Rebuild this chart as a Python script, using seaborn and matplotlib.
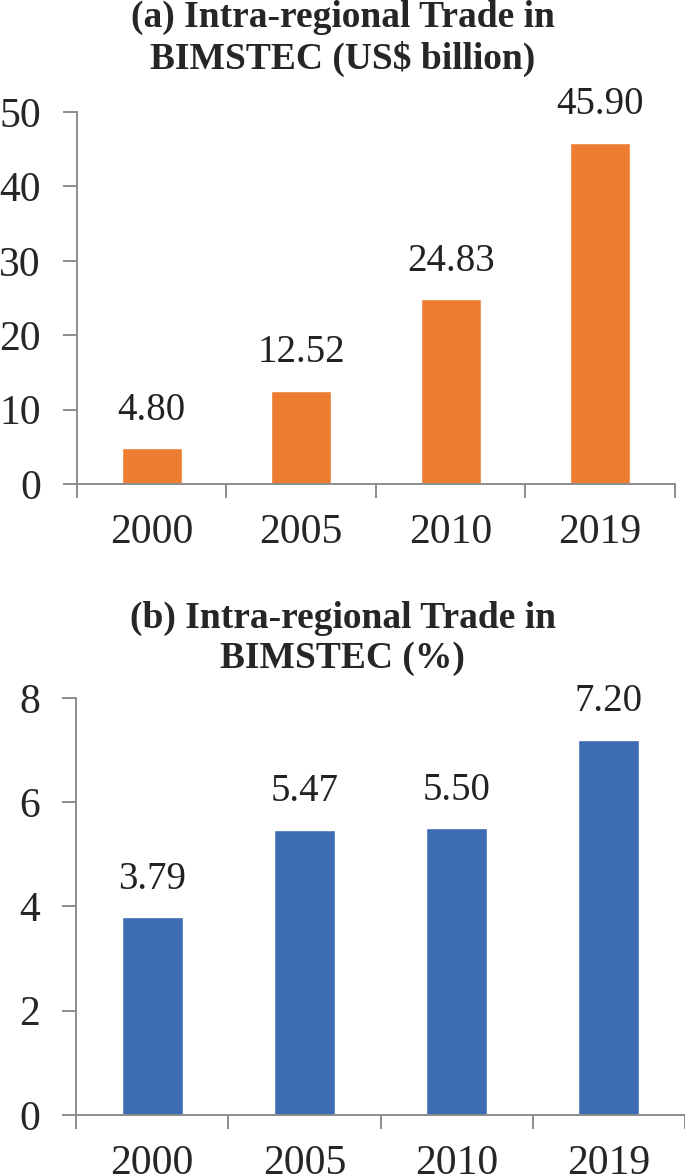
import pandas as pd
import seaborn as sns
import matplotlib.pyplot as plt

years = ["2000", "2005", "2010", "2019"]
trade_bn = [4.80, 12.52, 24.83, 45.90]
trade_pct = [3.79, 5.47, 5.50, 7.20]

sns.set_style("white")
plt.rcParams["font.family"] = ["Liberation Serif", "DejaVu Serif"]

df_a = pd.DataFrame({"year": years, "value": trade_bn})
df_b = pd.DataFrame({"year": years, "value": trade_pct})

fig = plt.figure(figsize=(6.85, 11.74), dpi=100)
ax1 = fig.add_axes([0.1124, 0.5877, 0.873, 0.3169])
ax2 = fig.add_axes([0.111, 0.0503, 0.889, 0.3552])

panels = [
    (ax1, df_a, "#ED7D31", "(a) Intra-regional Trade in\nBIMSTEC (US$ billion)", 50, 10, 0.967),
    (ax2, df_b, "#3D6CB3", "(b) Intra-regional Trade in\nBIMSTEC (%)", 8, 2, 0.456),
]

for ax, df, col, title, top, step, ty in panels:
    sns.barplot(data=df, x="year", y="value", color=col, width=0.4,
                saturation=1, ax=ax)
    ax.set_xlim(-0.5, 3.5)
    ax.set_ylim(0, top)
    ax.set_yticks(range(0, top + 1, step))
    ax.set_xlabel("")
    ax.set_ylabel("")
    for s in ["top", "right"]:
        ax.spines[s].set_visible(False)
    for s in ["left", "bottom"]:
        ax.spines[s].set_color("#8c8c8c")
        ax.spines[s].set_linewidth(1.4)
    ax.tick_params(axis="y", left=True, length=10, width=1.4, color="#8c8c8c",
                   labelsize=30, pad=16)
    ax.tick_params(axis="x", which="major", bottom=False, labelsize=30, pad=18)
    ax.set_xticks([-0.5, 0.5, 1.5, 2.5, 3.5], minor=True)
    ax.tick_params(axis="x", which="minor", bottom=True, length=10, width=1.4,
                   color="#8c8c8c")
    ax.bar_label(ax.containers[0], fmt="%.2f", padding=14, fontsize=28,
                 color="#222222")
    fig.text(0.5, ty, title, ha="center", va="center",
             fontsize=27, fontweight="bold", linespacing=1.2)

fig.savefig("out.png", dpi=100)
